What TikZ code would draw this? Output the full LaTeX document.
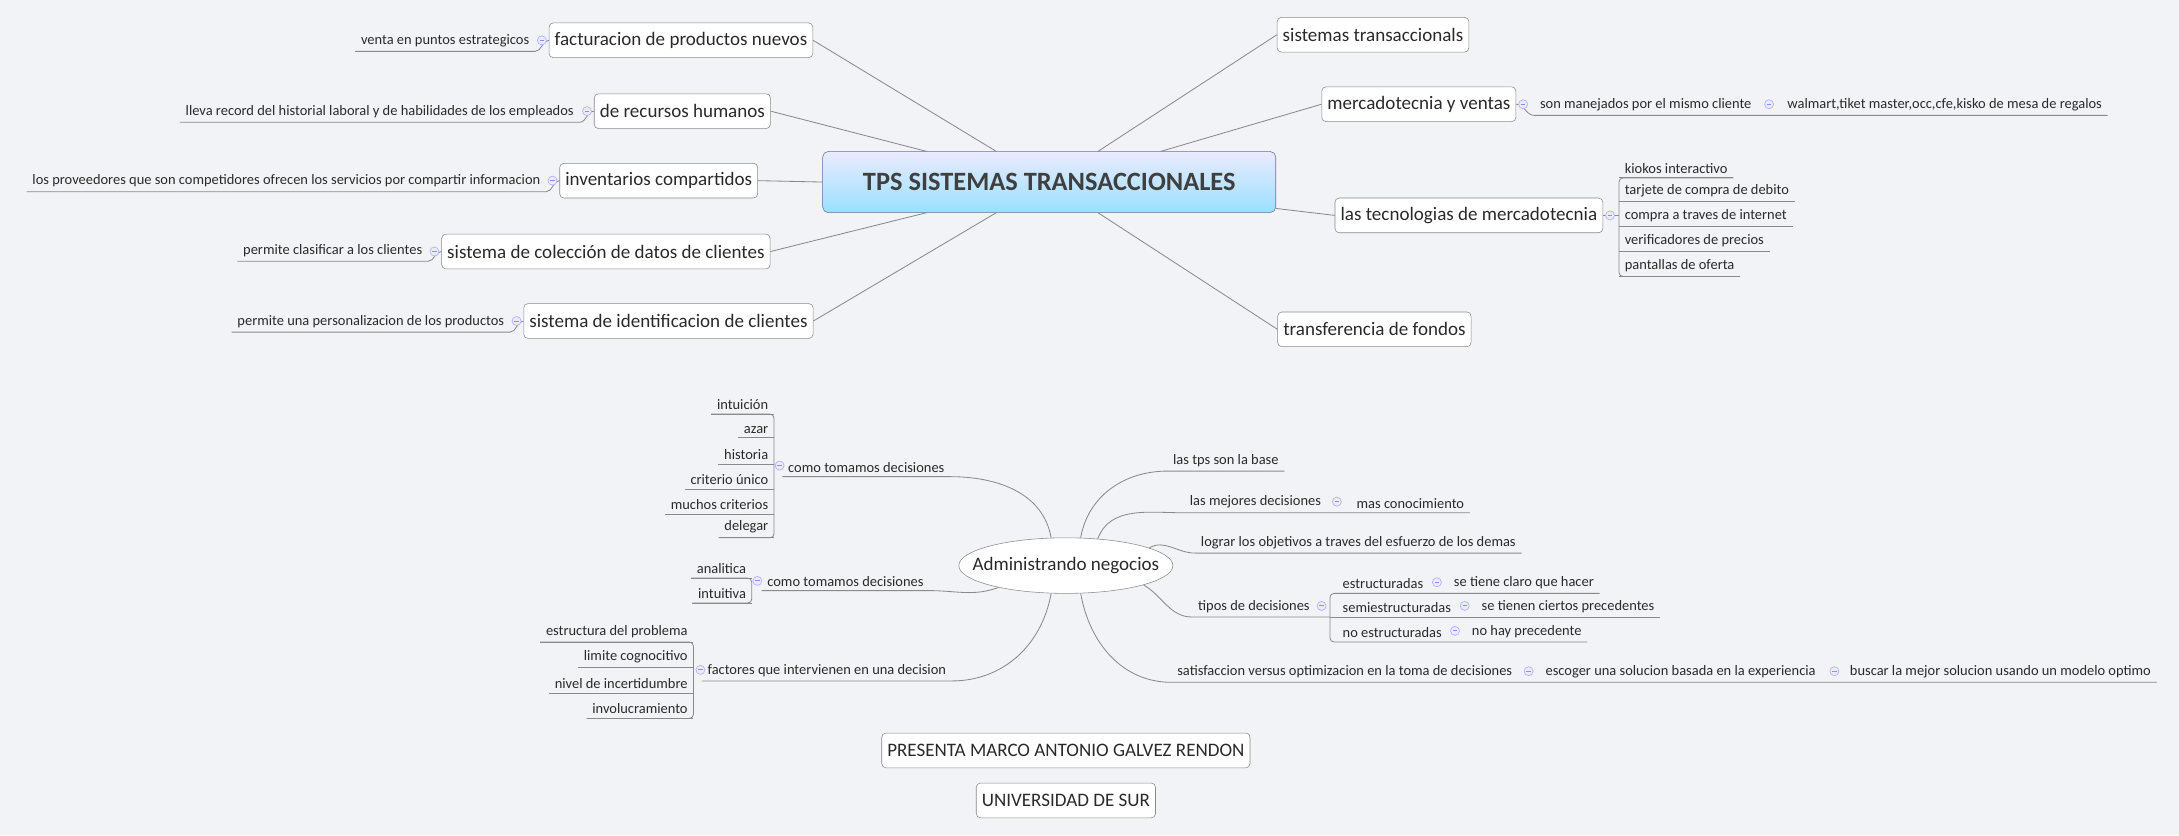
\documentclass[tikz,border=0pt]{standalone}
\usepackage{fontspec}
\setmainfont{Carlito}
\usetikzlibrary{shapes.geometric}
\definecolor{bg}{HTML}{F2F3F7}
\definecolor{ln}{HTML}{8A8A8A}
\definecolor{tx}{HTML}{2A2A2A}
\tikzset{
  box/.style={draw=ln,fill=white,rounded corners=3pt,font=\fontsize{13.7}{16}\selectfont,text=tx,minimum height=25pt,inner xsep=4pt},
  lf/.style={font=\fontsize{10.4}{12}\selectfont,text=tx,inner xsep=4pt,inner ysep=3pt},
  con/.style={draw=ln,line width=0.6pt},
  clp/.style={circle,draw=blue!30,fill=blue!8,minimum size=6.5pt,inner sep=0pt,line width=0.5pt,
    path picture={\draw[blue!45,line width=0.6pt] ([xshift=-1.6pt]path picture bounding box.center) -- ([xshift=1.6pt]path picture bounding box.center);}}
}
\newcommand\ul[1]{\draw[con] (#1.south west) -- (#1.south east);}
\begin{document}
\begin{tikzpicture}[x=1pt,y=-1pt]
\fill[bg] (0,0) rectangle (1568,601);
\useasboundingbox (0,0) rectangle (1568,601);
% central
\node[draw=ln!80!blue,top color=blue!8,bottom color=blue!30!cyan!40,rounded corners=4pt,minimum width=326pt,minimum height=44pt,font=\fontsize{19}{22}\selectfont\bfseries,text=tx!90] (c) at (755,131) {TPS SISTEMAS TRANSACCIONALES};
% top left boxes
\node[box] (f) at (490,29) {facturacion de productos nuevos};
\node[box] (r) at (491,80) {de recursos humanos};
\node[box] (i) at (474,130) {inventarios compartidos};
\node[box] (k) at (436,181) {sistema de colección de datos de clientes};
\node[box] (d) at (481,231) {sistema de identificacion de clientes};
% right boxes
\node[box] (s) at (988,25) {sistemas transaccionals};
\node[box] (m) at (1021,75) {mercadotecnia y ventas};
\node[box] (t) at (1057,155) {las tecnologias de mercadotecnia};
\node[box] (tf) at (989,237) {transferencia de fondos};
% central connectors
\coordinate (c1) at (717,109); \coordinate (c2) at (667,109);
\coordinate (c3) at (667,153); \coordinate (c4) at (717,153);
\coordinate (c5) at (790,109); \coordinate (c6) at (835,109);
\coordinate (c7) at (790,153);
\draw[con] (c1) -- (f.east); \draw[con] (c2) -- (r.east);
\draw[con] (c.west) -- (i.east); \draw[con] (c3) -- (k.east);
\draw[con] (c4) -- (d.east); \draw[con] (c5) -- (s.west);
\draw[con] (c6) -- (m.west); \draw[con] (c.east|-t.west) ++(0,-5) -- (t.west);
\draw[con] (c7) -- (tf.west);
% top-left leaves
\node[lf,anchor=south east] (l1) at (385,37) {venta en puntos estrategicos};
\node[lf,anchor=south east] (l2) at (417,88) {lleva record del historial laboral y de habilidades de los empleados};
\node[lf,anchor=south east] (l3) at (393,138) {los proveedores que son competidores ofrecen los servicios por compartir informacion};
\node[lf,anchor=south east] (l4) at (308,188) {permite clasificar a los clientes};
\node[lf,anchor=south east] (l5) at (367,239) {permite una personalizacion de los productos};
\foreach \a/\b in {l1/f,l2/r,l3/i,l4/k,l5/d}{
  \draw[con] (\a.south west) -- (\a.south east) to[out=0,in=180] (\b.west);
  \node[clp] at ([xshift=-5pt]\b.west) {};
}
% mercadotecnia leaves
\node[lf,anchor=south west] (m1) at (1104,83) {son manejados por el mismo cliente};
\node[lf,anchor=south west] (m2) at (1282,83) {walmart,tiket master,occ,cfe,kisko de mesa de regalos};
\draw[con] (m.east) to[out=0,in=180] (m1.south west) -- (m2.south west) -- (m2.south east);
\node[clp] at ([xshift=5pt]m.east) {};
\node[clp] at (1273,75) {};
% tecnologias leaves
\node[lf,anchor=south west] (t1) at (1165,128) {kiokos interactivo};
\node[lf,anchor=south west] (t2) at (1165,145) {tarjete de compra de debito};
\node[lf,anchor=south west] (t3) at (1165,163) {compra a traves de internet};
\node[lf,anchor=south west] (t4) at (1165,181) {verificadores de precios};
\node[lf,anchor=south west] (t5) at (1165,199) {pantallas de oferta};
\foreach \a in {t1,t2,t3,t4,t5}{\ul{\a}}
\draw[con,rounded corners=3pt] (t1.south east) -- (t1.south west) -- (t5.south west) -- (t5.south east);
\draw[con] (t.east) -- (t.east-|t1.south west);
\node[clp] at ([xshift=5pt]t.east) {};
% bottom mind map
\node[ellipse,draw=ln,fill=white,minimum width=154pt,minimum height=40pt,font=\fontsize{13.7}{16}\selectfont,text=tx,inner xsep=-14pt,inner ysep=1pt] (e) at (767,407) {Administrando negocios};
% left branch A1
\node[lf,anchor=south west] (a1) at (563,343) {como tomamos decisiones};
\draw[con] (a1.south west) -- (a1.south east) to[out=0,in=100] (e.118);
\node[clp] at (561,335) {};
\node[lf,anchor=south east] (a11) at (557,298) {intuición};
\node[lf,anchor=south east] (a12) at (557,315) {azar};
\node[lf,anchor=south east] (a13) at (557,334) {historia};
\node[lf,anchor=south east] (a14) at (557,352) {criterio único};
\node[lf,anchor=south east] (a15) at (557,370) {muchos criterios};
\node[lf,anchor=south east] (a16) at (557,387) {delegar};
\foreach \a in {a11,a12,a13,a14,a15,a16}{\ul{\a}}
\draw[con,rounded corners=3pt] (a11.south west) -- (a11.south east) -- (a16.south east) -- (a16.south west);
% A2
\node[lf,anchor=south west] (a2) at (548,425) {como tomamos decisiones};
\draw[con] (a2.south west) -- (a2.south east) to[out=0,in=200] (e.198);
\node[clp] at (545,418) {};
\node[lf,anchor=south east] (a21) at (541,416) {analitica};
\node[lf,anchor=south east] (a22) at (541,434) {intuitiva};
\foreach \a in {a21,a22}{\ul{\a}}
\draw[con,rounded corners=3pt] (a21.south west) -- (a21.south east) -- (a22.south east) -- (a22.south west);
% A3
\node[lf,anchor=south west] (a3) at (505,490) {factores que intervienen en una decision};
\draw[con] (a3.south west) -- (a3.south east) to[out=0,in=-100] (e.-118);
\node[clp] at (504,482) {};
\node[lf,anchor=south east] (a31) at (499,462) {estructura del problema};
\node[lf,anchor=south east] (a32) at (499,480) {limite cognocitivo};
\node[lf,anchor=south east] (a33) at (499,499) {nivel de incertidumbre};
\node[lf,anchor=south east] (a34) at (499,517) {involucramiento};
\foreach \a in {a31,a32,a33,a34}{\ul{\a}}
\draw[con,rounded corners=3pt] (a31.south west) -- (a31.south east) -- (a34.south east) -- (a34.south west);
% right branches
\node[lf,anchor=south west] (b1) at (840,339) {las tps son la base};
\draw[con] (e.62) to[out=80,in=180] (b1.south west) -- (b1.south east);
\node[lf,anchor=south west] (b2) at (852,369) {las mejores decisiones};
\node[lf,anchor=south west] (b21) at (972,369) {mas conocimiento};
\draw[con] (e.40) to[out=70,in=180] (b2.south west) -- (b21.south west) -- (b21.south east);
\node[clp] at (962,361) {};
\node[lf,anchor=south west] (b3) at (860,398) {lograr los objetivos a traves del esfuerzo de los demas};
\draw[con] (e.12) to[out=30,in=180] (b3.south west) -- (b3.south east);
\node[lf,anchor=south west] (b4) at (858,444) {tipos de decisiones};
\coordinate (br) at (957,444);
\draw[con] (e.-14) to[out=-30,in=180] (b4.south west) -- (br);
\node[clp] at (951,436) {};
\node[lf,anchor=south west] (b41) at (962,427) {estructuradas};
\node[lf,anchor=south west] (b42) at (962,444) {semiestructuradas};
\node[lf,anchor=south west] (b43) at (962,462) {no estructuradas};
\node[lf,anchor=south west] (b411) at (1042,427) {se tiene claro que hacer};
\node[lf,anchor=south west] (b421) at (1062,444) {se tienen ciertos precedentes};
\node[lf,anchor=south west] (b431) at (1055,462) {no hay precedente};
\draw[con,rounded corners=3pt] (b411.south east) -- (b41.south west-|br) -- (b43.south west-|br) -- (b431.south east);
\draw[con] (br) -- (b421.south east);
\node[clp] at (1034,419) {};
\node[clp] at (1054,436) {};
\node[clp] at (1047,454) {};
\node[lf,anchor=south west] (b5) at (843,491) {satisfaccion versus optimizacion en la toma de decisiones};
\node[lf,anchor=south west] (b51) at (1108,491) {escoger una solucion basada en la experiencia};
\node[lf,anchor=south west] (b52) at (1327,491) {buscar la mejor solucion usando un modelo optimo};
\draw[con] (e.-62) to[out=-80,in=180] (b5.south west) -- (b52.south east);
\node[clp] at (1100,483) {};
\node[clp] at (1320,483) {};
% bottom boxes
\node[box] (p) at (767,540) {PRESENTA MARCO ANTONIO GALVEZ RENDON};
\node[box] (u) at (767,576) {UNIVERSIDAD DE SUR};
\end{tikzpicture}
\end{document}
